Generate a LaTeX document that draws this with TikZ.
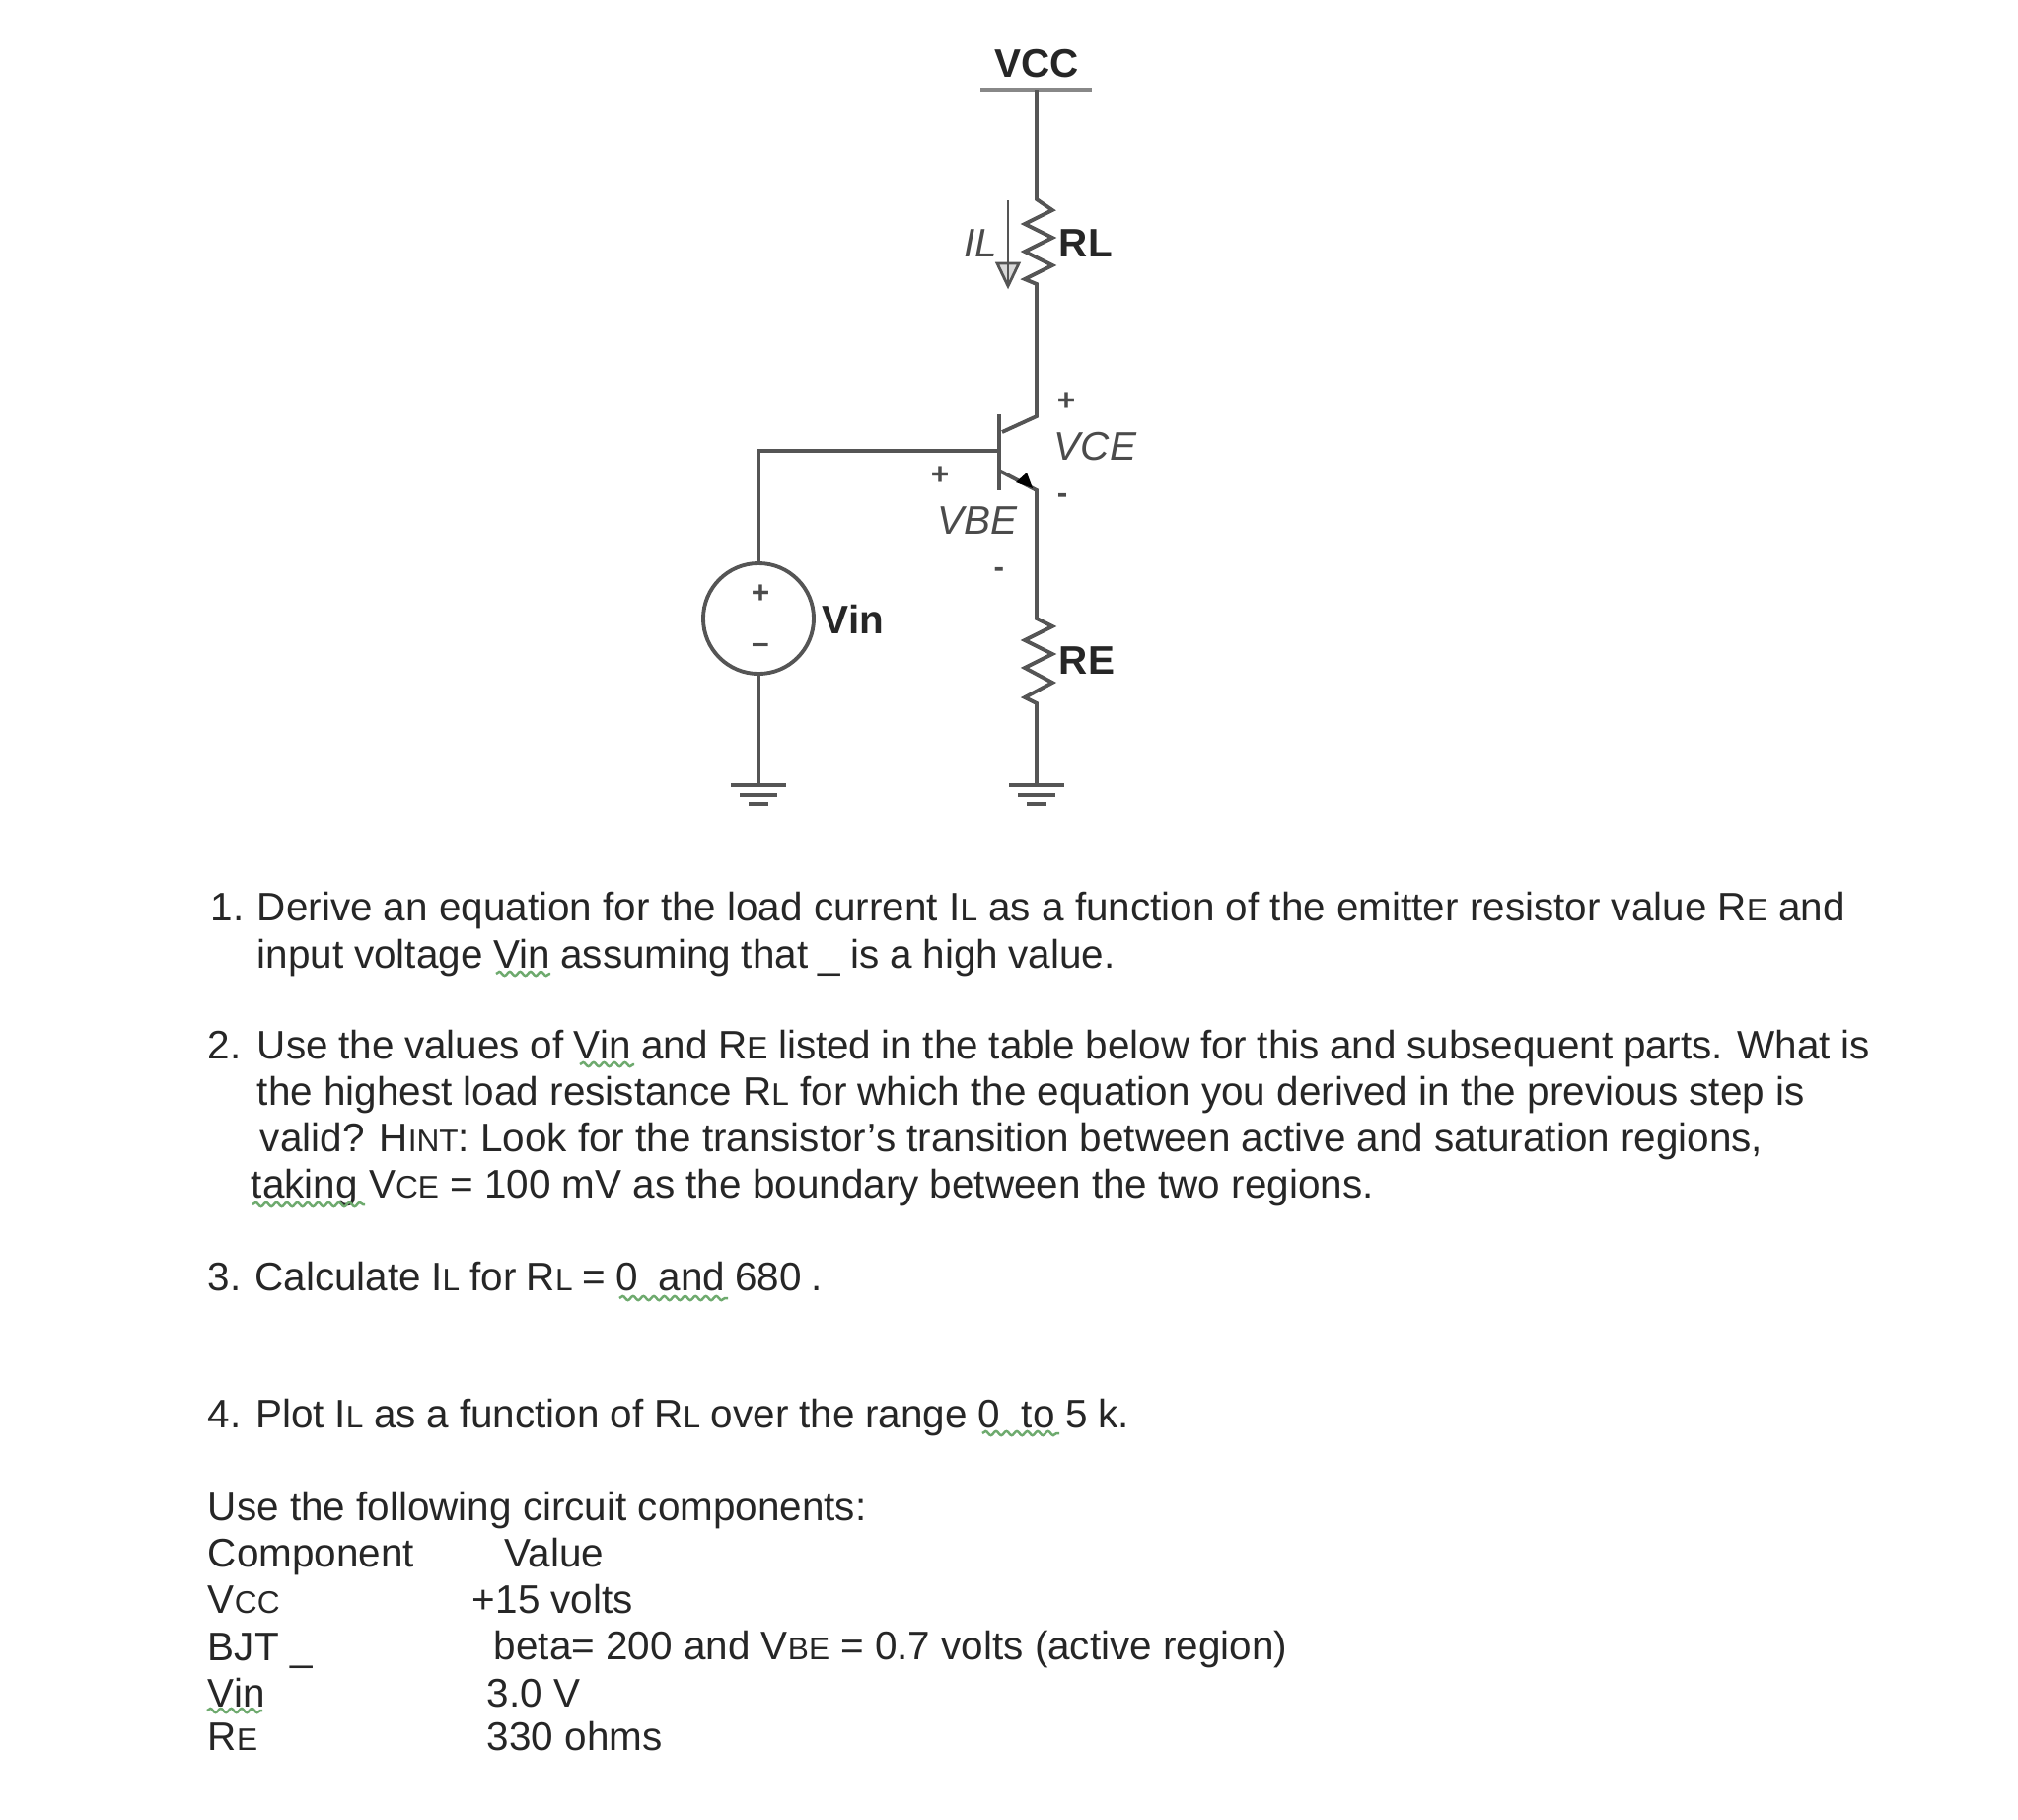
\documentclass[tikz,border=0pt]{standalone}
\usepackage{fontspec}
\setmainfont{Liberation Sans}
\usepackage{tikz}
\usetikzlibrary{decorations.pathmorphing}
\definecolor{wire_gray}{RGB}{85,85,85}
\definecolor{label_gray}{RGB}{75,75,75}
\definecolor{squiggle_green}{RGB}{110,170,110}
\newcommand{\sm}[1]{{\fontsize{9pt}{10pt}\selectfont #1}}

\begin{document}
\begin{tikzpicture}[x=0.01cm,y=-0.01cm,line width=1.1pt]
    \tikzstyle{wire}=[draw=wire_gray]
    \tikzstyle{bold}=[font=\fontsize{11.5pt}{14pt}\selectfont\bfseries,inner sep=0pt,text=black!85]
    \tikzstyle{ital}=[font=\fontsize{11.5pt}{14pt}\selectfont\itshape,inner sep=0pt,text=label_gray]
    \tikzstyle{signmark}=[font=\fontsize{9pt}{10pt}\selectfont\bfseries,inner sep=0pt,text=label_gray]
    \tikzstyle{textline}=[font=\fontsize{11.5pt}{14pt}\selectfont,anchor=base west,inner sep=0pt,text=black!85]
    \tikzstyle{squiggle}=[draw=squiggle_green,line width=0.7pt,decorate,decoration={snake,amplitude=0.6pt,segment length=3pt}]

    \useasboundingbox (0,0) rectangle (2046,1844);

    % circuit
    \node[bold] (vcc) at (1051,65) {VCC};
    \coordinate (barl) at (994,91);
    \coordinate (barr) at (1107,91);
    \coordinate (vcctop) at (1051,91);
    \coordinate (rltop) at (1051,202);
    \coordinate (rlbot) at (1051,288);
    \coordinate (coll) at (1051,422);
    \coordinate (collb) at (1016,438);
    \coordinate (bbtop) at (1013,420);
    \coordinate (bbbot) at (1013,497);
    \coordinate (base) at (1013,457);
    \coordinate (corner) at (769,457);
    \coordinate (emitb) at (1013,477);
    \coordinate (emit) at (1051,497);
    \coordinate (retop) at (1051,627);
    \coordinate (rebot) at (1051,713);
    \coordinate (gndr) at (1051,796);
    \coordinate (gndl) at (769,796);
    \node[draw=wire_gray,circle,minimum size=1.12cm,inner sep=0pt] (vin) at (769,627) {};

    \draw[wire,draw=wire_gray!70] (barl) -- (barr);
    \draw[wire] (vcctop) -- (rltop)
      -- ++(16,11) -- ++(-28,14) -- ++(28,14) -- ++(-28,14) -- ++(28,14) -- ++(-28,14) -- (rlbot)
      -- (coll) -- (collb);
    \draw[wire] (bbtop) -- (bbbot);
    \draw[wire] (base) -- (corner) -- (vin.north);
    \draw[wire] (vin.south) -- (gndl);
    \draw[wire] (emitb) -- (emit) -- (retop)
      -- ++(16,8) -- ++(-28,14) -- ++(28,14) -- ++(-28,14) -- ++(28,15) -- ++(-28,15) -- (rebot)
      -- (gndr);
    \fill[black] (1047,495) -- (1030,489) -- (1041,479) -- cycle;

    % grounds
    \foreach \g in {gndl,gndr} {
      \draw[wire] ([xshift=-0.28cm]\g) -- ([xshift=0.28cm]\g);
      \draw[wire] ([xshift=-0.19cm,yshift=-0.10cm]\g) -- ([xshift=0.19cm,yshift=-0.10cm]\g);
      \draw[wire] ([xshift=-0.10cm,yshift=-0.19cm]\g) -- ([xshift=0.10cm,yshift=-0.19cm]\g);
    }

    % current arrow
    \coordinate (ilt) at (1022,203);
    \coordinate (ilb) at (1022,290);
    \draw[wire,line width=0.8pt,fill=black!15] (1011,267) -- (1033,267) -- (ilb) -- cycle;
    \draw[wire,line width=0.8pt] (ilt) -- (ilb);

    \node[ital] (il) at (994,247) {IL};
    \node[bold,anchor=west] (rl) at (1072,247) {RL};
    \node[bold,anchor=west] (re) at (1072,670) {RE};
    \node[bold,anchor=west] (vinlab) at (832,628) {Vin};
    \node[ital,anchor=west] (vce) at (1067,453) {VCE};
    \node[ital,anchor=west] (vbe) at (949,528) {VBE};
    \node[signmark] (vceplus) at (1081,407) {+};
    \node[signmark] (vceminus) at (1077,505) {-};
    \node[signmark] (vbeplus) at (953,482) {+};
    \node[signmark] (vbeminus) at (1013,580) {-};
    \node[signmark] (vinplus) at (771,602) {+};
    \node[signmark] (vinminus) at (771,657) {--};

    % questions
    \node[textline] (q1a) at (212,933) {1.};
    \node[textline] (q1b) at (259,933) {Derive an equation for the load current I\sm{L} as a function of the emitter resistor value R\sm{E} and};
    \node[textline] (q1c) at (259,981) {\spaceskip=3pt input voltage Vin assuming that \_ is a high value.};
    \node[textline] (q2a) at (209,1073) {2.};
    \node[textline] (q2b) at (259,1073) {\spaceskip=3pt Use the values of Vin and R\sm{E} listed in the table below for this and subsequent parts. What is};
    \node[textline] (q2c) at (259,1120) {the highest load resistance R\sm{L} for which the equation you derived in the previous step is};
    \node[textline] (q2d) at (262,1167) {valid? H\sm{INT}: Look for the transistor's transition between active and saturation regions,};
    \node[textline] (q2e) at (253,1214) {taking V\sm{CE} = 100 mV as the boundary between the two regions.};
    \node[textline] (q3) at (209,1308) {\spaceskip=2.9pt 3. Calculate I\sm{L} for R\sm{L} = 0\ \ and 680 .};
    \node[textline] (q4) at (209,1447) {\spaceskip=3.08pt 4. Plot I\sm{L} as a function of R\sm{L} over the range 0\ \ to 5 k.};

    % table
    \node[textline] (tabhead) at (209,1541) {Use the following circuit components:};
    \node[textline] (compc) at (209,1588) {Component};
    \node[textline] (compv) at (510,1588) {Value};
    \node[textline] (vccc) at (209,1635) {V\sm{CC}};
    \node[textline] (vccv) at (477,1635) {+15 volts};
    \node[textline] (bjtc) at (209,1683) {BJT \_};
    \node[textline] (bjtv) at (499,1682) {beta= 200 and V\sm{BE} = 0.7 volts (active region)};
    \node[textline] (vinc) at (209,1730) {Vin};
    \node[textline] (vinv) at (492,1730) {3.0 V};
    \node[textline] (rec) at (209,1774) {R\sm{E}};
    \node[textline] (rev) at (492,1774) {330 ohms};

    % spell check marks
    \draw[squiggle] (503,987) -- (558,987);
    \draw[squiggle] (588,1079) -- (643,1079);
    \draw[squiggle] (256,1221) -- (370,1221);
    \draw[squiggle] (628,1316) -- (738,1316);
    \draw[squiggle] (996,1453) -- (1074,1453);
    \draw[squiggle] (210,1734) -- (266,1734);
  \end{tikzpicture}
\end{document}
